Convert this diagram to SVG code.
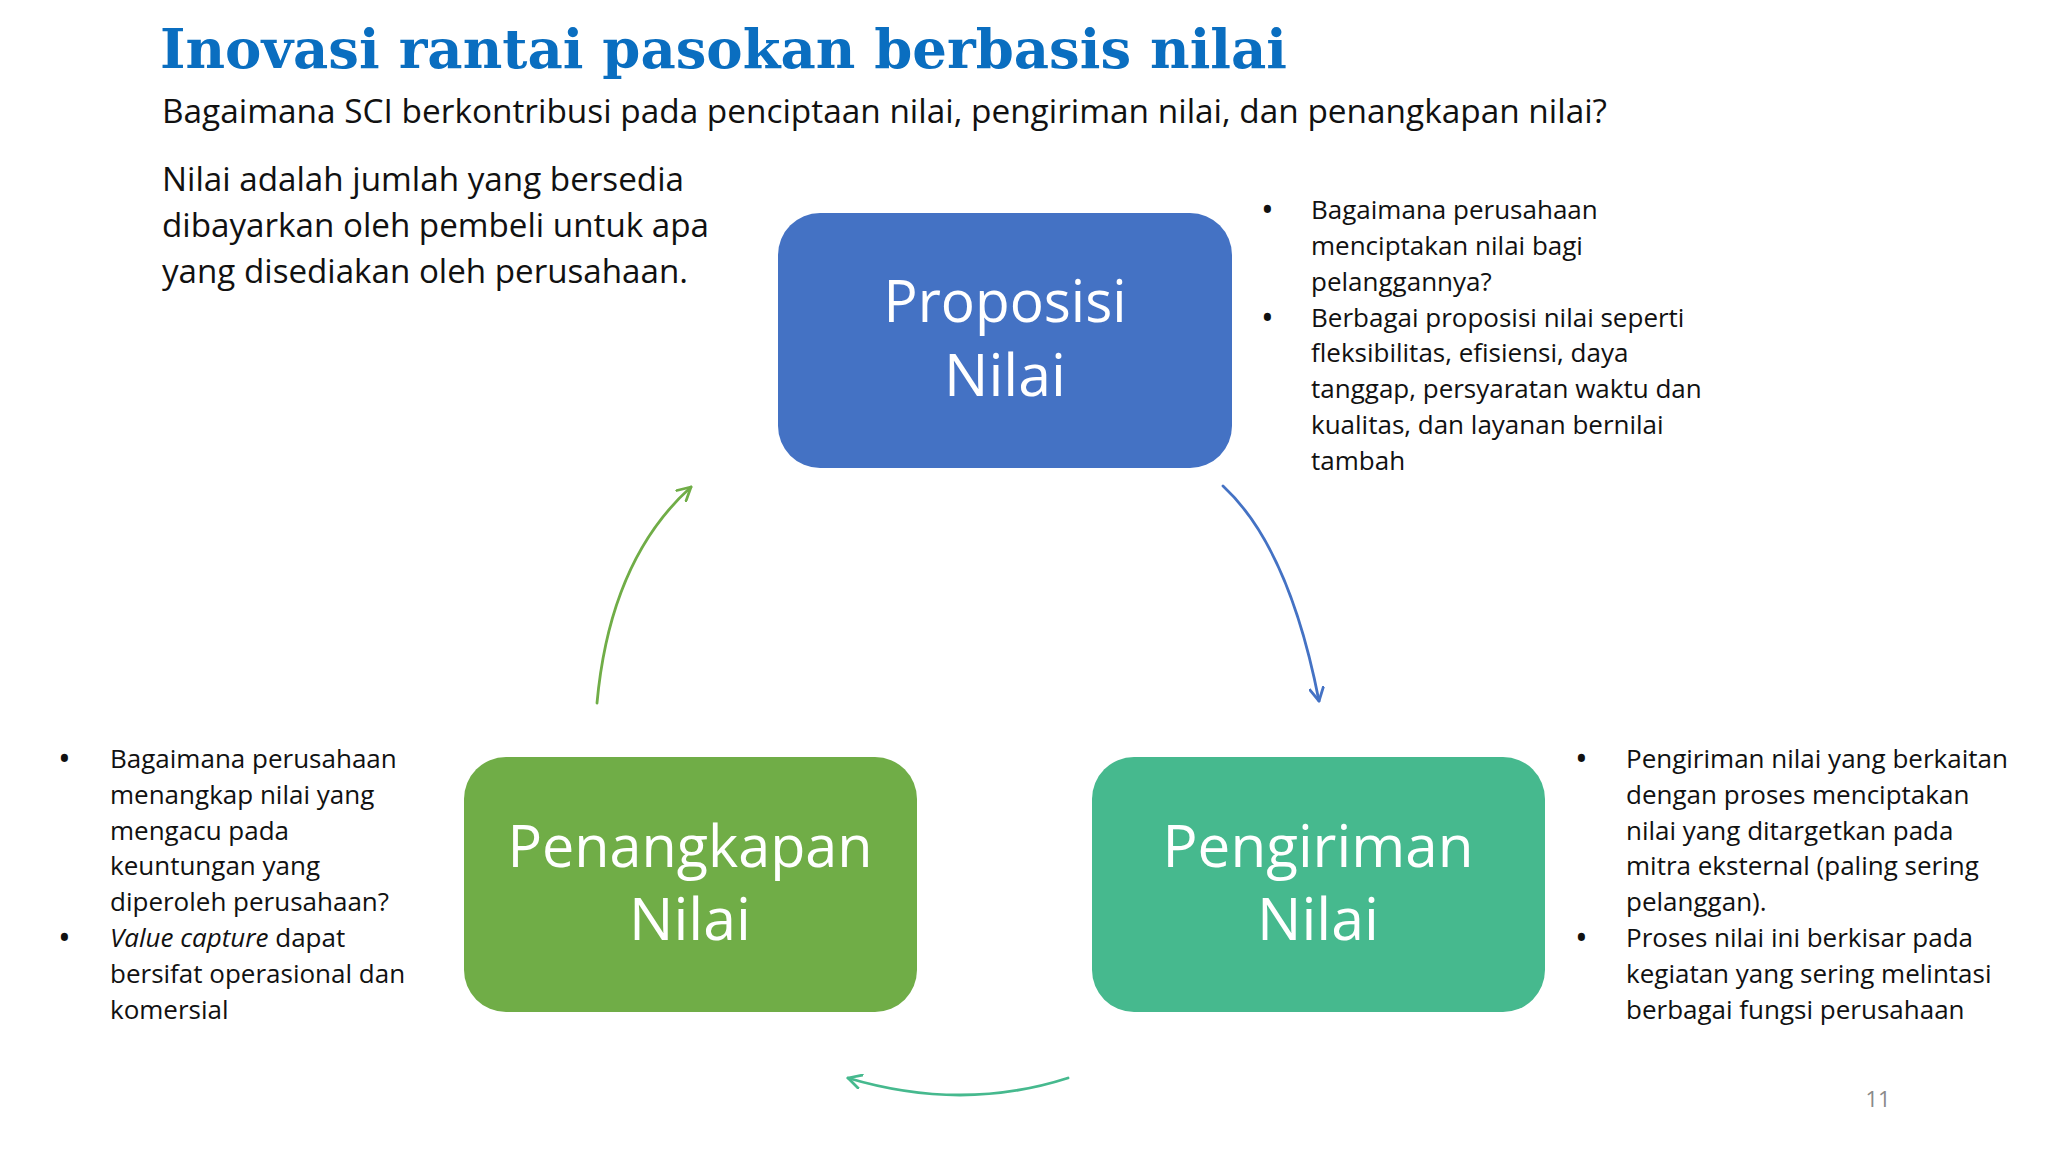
<svg xmlns="http://www.w3.org/2000/svg" width="2048" height="1152" viewBox="0 0 2048 1152">
<defs>
<style>
.title{font-family:"DejaVu Serif","Liberation Serif",serif;font-weight:bold;font-size:54px;fill:#0A6EC0}
.sub{font-family:"Open Sans","Noto Sans",sans-serif;font-size:32px;fill:#111}
.para{font-family:"Open Sans","Noto Sans",sans-serif;font-size:33px;fill:#111}
.body{font-family:"Open Sans","Noto Sans",sans-serif;font-size:26px;fill:#111}
.bul{font-family:"Open Sans","Noto Sans",sans-serif;font-size:34px;fill:#111}
.lbl{font-family:"Open Sans","Noto Sans",sans-serif;font-size:59px;fill:#fff;text-anchor:middle}
.pg{font-family:"Open Sans","Noto Sans",sans-serif;font-size:22px;fill:#8a8a8a;text-anchor:middle}
.conn{fill:none;stroke-width:2.8;stroke-linecap:round}
</style>
<marker id="ahBlue" viewBox="0 0 16 16" refX="14" refY="8" markerWidth="16" markerHeight="16" markerUnits="userSpaceOnUse" orient="auto"><path d="M1,1 L14,8 L1,15" fill="none" stroke="#4472C4" stroke-width="2.8" stroke-linecap="round" stroke-linejoin="round"/></marker>
<marker id="ahGreen" viewBox="0 0 16 16" refX="14" refY="8" markerWidth="16" markerHeight="16" markerUnits="userSpaceOnUse" orient="auto"><path d="M1,1 L14,8 L1,15" fill="none" stroke="#70AD47" stroke-width="2.8" stroke-linecap="round" stroke-linejoin="round"/></marker>
<marker id="ahTeal" viewBox="0 0 16 16" refX="14" refY="8" markerWidth="16" markerHeight="16" markerUnits="userSpaceOnUse" orient="auto"><path d="M1,1 L14,8 L1,15" fill="none" stroke="#46B98E" stroke-width="2.8" stroke-linecap="round" stroke-linejoin="round"/></marker>
</defs>
<rect width="2048" height="1152" fill="#ffffff"/>

<g id="header">
<text class="title" x="160" y="68" textLength="1127" lengthAdjust="spacingAndGlyphs">Inovasi rantai pasokan berbasis nilai</text>
<text class="sub" x="162" y="123" textLength="1445" lengthAdjust="spacingAndGlyphs">Bagaimana SCI berkontribusi pada penciptaan nilai, pengiriman nilai, dan penangkapan nilai?</text>
</g>

<g id="definition">
<text class="para" x="162" y="191" textLength="522" lengthAdjust="spacingAndGlyphs">Nilai adalah jumlah yang bersedia</text>
<text class="para" x="162" y="237" textLength="547" lengthAdjust="spacingAndGlyphs">dibayarkan oleh pembeli untuk apa</text>
<text class="para" x="162" y="283" textLength="526" lengthAdjust="spacingAndGlyphs">yang disediakan oleh perusahaan.</text>
</g>

<g id="node-proposisi">
<rect x="778" y="213" width="454" height="255" rx="42" fill="#4472C4"/>
<text class="lbl" x="1005" y="322" textLength="243" lengthAdjust="spacingAndGlyphs">Proposisi</text>
<text class="lbl" x="1005" y="396">Nilai</text>
</g>

<g id="node-penangkapan">
<rect x="464" y="757" width="453" height="255" rx="42" fill="#70AD47"/>
<text class="lbl" x="690" y="867" textLength="365" lengthAdjust="spacingAndGlyphs">Penangkapan</text>
<text class="lbl" x="690" y="940">Nilai</text>
</g>

<g id="node-pengiriman">
<rect x="1092" y="757" width="453" height="255" rx="42" fill="#46B98E"/>
<text class="lbl" x="1318" y="867" textLength="311" lengthAdjust="spacingAndGlyphs">Pengiriman</text>
<text class="lbl" x="1318" y="940">Nilai</text>
</g>

<g id="notes-proposisi">
<text class="bul" x="1261" y="222">•</text>
<text class="body" x="1311" y="219">Bagaimana perusahaan</text>
<text class="body" x="1311" y="255">menciptakan nilai bagi</text>
<text class="body" x="1311" y="291">pelanggannya?</text>
<text class="bul" x="1261" y="330">•</text>
<text class="body" x="1311" y="327">Berbagai proposisi nilai seperti</text>
<text class="body" x="1311" y="362">fleksibilitas, efisiensi, daya</text>
<text class="body" x="1311" y="398">tanggap, persyaratan waktu dan</text>
<text class="body" x="1311" y="434">kualitas, dan layanan bernilai</text>
<text class="body" x="1311" y="470">tambah</text>
</g>

<g id="notes-penangkapan">
<text class="bul" x="58" y="771">•</text>
<text class="body" x="110" y="768">Bagaimana perusahaan</text>
<text class="body" x="110" y="804">menangkap nilai yang</text>
<text class="body" x="110" y="840">mengacu pada</text>
<text class="body" x="110" y="875">keuntungan yang</text>
<text class="body" x="110" y="911">diperoleh perusahaan?</text>
<text class="bul" x="58" y="950">•</text>
<text class="body" x="110" y="947"><tspan font-style="italic">Value capture</tspan> dapat</text>
<text class="body" x="110" y="983">bersifat operasional dan</text>
<text class="body" x="110" y="1019">komersial</text>
</g>

<g id="notes-pengiriman">
<text class="bul" x="1575" y="771">•</text>
<text class="body" x="1626" y="768">Pengiriman nilai yang berkaitan</text>
<text class="body" x="1626" y="804">dengan proses menciptakan</text>
<text class="body" x="1626" y="840">nilai yang ditargetkan pada</text>
<text class="body" x="1626" y="875">mitra eksternal (paling sering</text>
<text class="body" x="1626" y="911">pelanggan).</text>
<text class="bul" x="1575" y="950">•</text>
<text class="body" x="1626" y="947">Proses nilai ini berkisar pada</text>
<text class="body" x="1626" y="983">kegiatan yang sering melintasi</text>
<text class="body" x="1626" y="1019">berbagai fungsi perusahaan</text>
</g>

<g id="connectors">
<path class="conn" d="M1223,486 Q1289,547 1319,701" stroke="#4472C4" marker-end="url(#ahBlue)"/>
<path class="conn" d="M1068,1078 Q962,1112 848,1078" stroke="#46B98E" marker-end="url(#ahTeal)"/>
<path class="conn" d="M597,703 Q610,560 691,487" stroke="#70AD47" marker-end="url(#ahGreen)"/>
</g>

<text class="pg" x="1878" y="1107">11</text>
</svg>
